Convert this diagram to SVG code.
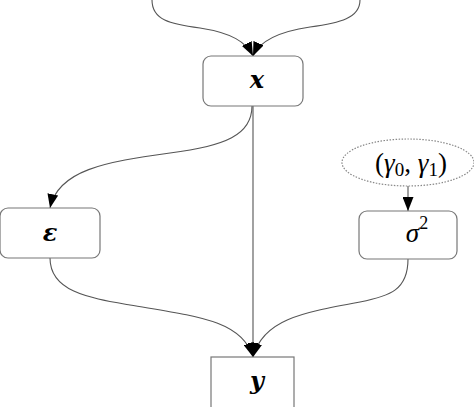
<svg xmlns="http://www.w3.org/2000/svg" width="474" height="407" viewBox="0 0 474 407">
<style>
.box{fill:#fff;stroke:#777;stroke-width:1.2}
.edge{fill:none;stroke:#555;stroke-width:1.1;marker-end:url(#arr)}
.lbl{font-family:"DejaVu Serif","Liberation Serif",serif;font-style:italic;font-weight:bold;font-size:24px;fill:#000;text-anchor:middle}
.math{font-family:"Liberation Serif","DejaVu Serif",serif;font-style:italic;font-size:27px;fill:#000;text-anchor:middle}
</style>
<defs>
<marker id="arr" viewBox="0 0 14 11" refX="14" refY="5.5" markerWidth="14" markerHeight="11" markerUnits="userSpaceOnUse" orient="auto">
<path d="M0,0 L14,5.5 L0,11 z" fill="#000"/>
</marker>
</defs>
<rect width="474" height="407" fill="#fff"/>
<g id="connectors">
<path class="edge" d="M152,0 C152,20 170,24 200,28 C232,33 246,42 253,56"/>
<path class="edge" d="M360,0 C360,18 340,23 310,27 C276,32 259,42 253,56"/>
<path class="edge" d="M252,106 C252,135 225,146 170,153 C105,162 58,170 50,208"/>
<path class="edge" d="M253,106 L253,357"/>
<path class="edge" d="M408,186 L408,211"/>
<path class="edge" d="M50,258 C50,292 90,298 130,305 C195,316 242,320 253,357"/>
<path class="edge" d="M408,259 C408,290 390,296 360,302 C300,313 263,320 253,357"/>
</g>
<g id="node-x">
<rect class="box" x="203" y="56" width="100" height="50" rx="8"/>
<text class="lbl" x="257" y="88">x</text>
</g>
<g id="node-eps">
<rect class="box" x="0" y="208" width="100" height="50" rx="8"/>
<text class="lbl" x="50" y="241">ε</text>
</g>
<g id="node-gamma">
<ellipse cx="408" cy="162.5" rx="66" ry="23.5" fill="#fff" stroke="#888" stroke-width="1.2" stroke-dasharray="1.5,1.5"/>
<text class="math" x="411" y="172" style="font-style:normal">(<tspan font-style="italic">γ</tspan><tspan font-size="19" font-style="normal" dy="4">0</tspan><tspan dy="-4">, </tspan><tspan font-style="italic">γ</tspan><tspan font-size="19" font-style="normal" dy="4">1</tspan><tspan dy="-4">)</tspan></text>
</g>
<g id="node-sigma">
<rect class="box" x="359" y="211" width="98" height="48" rx="8"/>
<text class="math" x="417" y="242">σ<tspan font-size="18" font-style="normal" dy="-13">2</tspan></text>
</g>
<g id="node-y">
<rect class="box" x="211" y="357" width="83" height="60"/>
<text class="lbl" x="257" y="389">y</text>
</g>
</svg>
